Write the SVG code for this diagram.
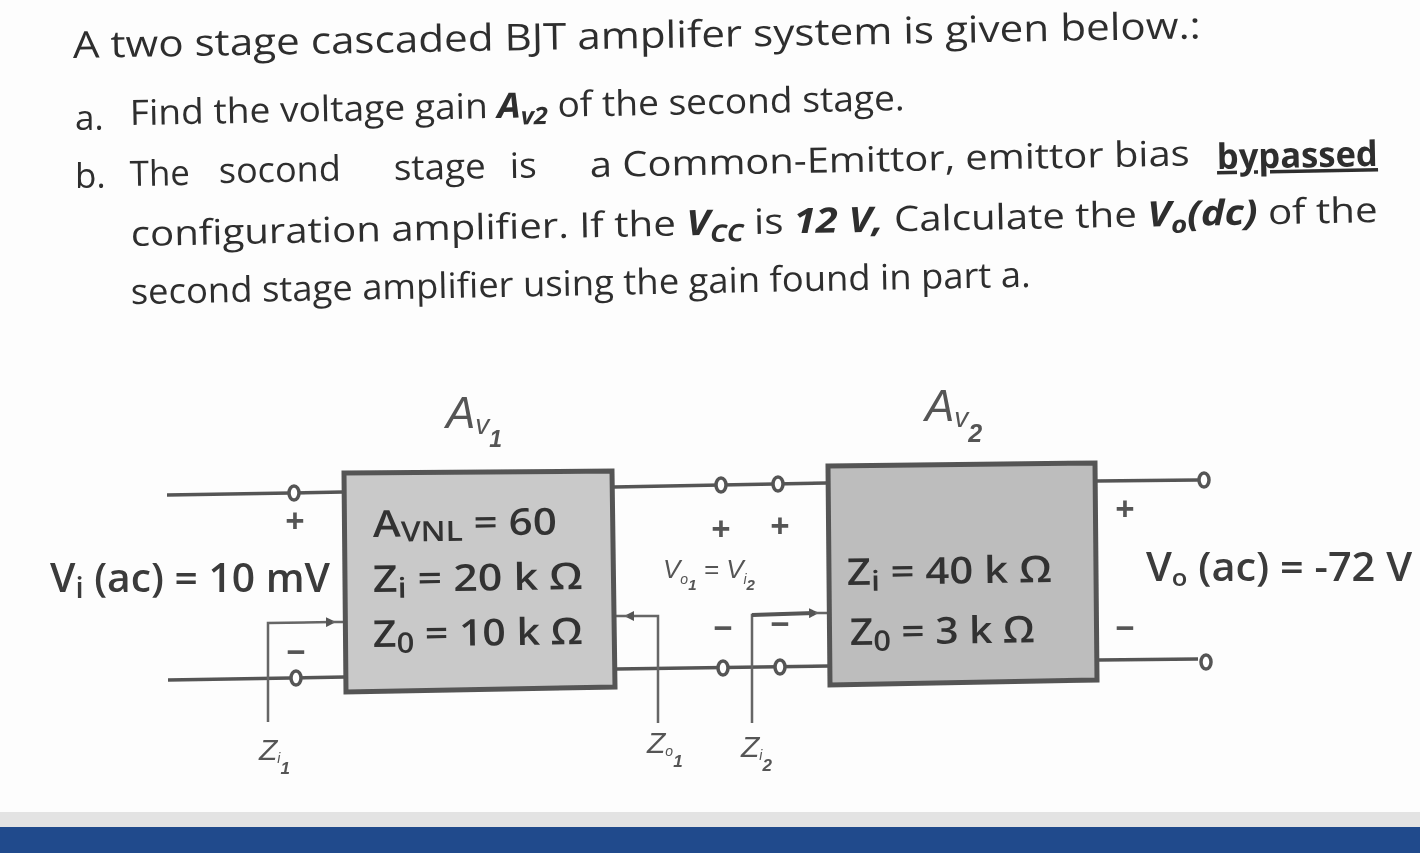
<svg xmlns="http://www.w3.org/2000/svg" width="1420" height="853" viewBox="0 0 1420 853">
<defs>
<filter id="scan" x="0" y="0" width="100%" height="100%"><feGaussianBlur stdDeviation="0.7"/></filter>
<marker id="ah" markerWidth="12" markerHeight="10" refX="6" refY="5" orient="auto" markerUnits="userSpaceOnUse"><path d="M0 0L10 5L0 10Z" fill="#555"/></marker>
</defs>
<style>
text{font-family:"Open Sans","Noto Sans","Liberation Sans",sans-serif;fill:#2e2e2e}
.q{font-size:37px}
.q2{font-size:35px}
.lb{font-size:37px;font-weight:600;fill:#333}
.v{font-size:39px;font-weight:600;fill:#3a3a3a}
.pm{font-size:34px;font-weight:700;fill:#555;text-anchor:middle}
.it{font-family:"Liberation Sans",sans-serif;font-style:italic;fill:#555}
.w{fill:none;stroke:#555;stroke-width:3.5}
.t{fill:none;stroke:#666;stroke-width:2.5}
.c{fill:#fff;stroke:#555;stroke-width:3.5}
</style>
<rect width="1420" height="853" fill="#fdfdfd"/>
<rect y="812" width="1420" height="15" fill="#e3e3e3"/>
<rect y="827" width="1420" height="26" fill="#204a8c"/>
<g filter="url(#scan)">
<g id="question">
<text class="q" x="73" y="58" textLength="1128" lengthAdjust="spacingAndGlyphs" transform="rotate(-1 73 58)">A two stage cascaded BJT amplifer system is given below.:</text>
<text class="q2" x="75" y="130">a.</text>
<text class="q2" x="130" y="125" textLength="775" lengthAdjust="spacingAndGlyphs" transform="rotate(-1.1 130 125)">Find the voltage gain <tspan font-weight="700" font-style="italic">A<tspan font-size="24" dy="7">v2</tspan></tspan><tspan dy="-7"> of the second stage.</tspan></text>
<text class="q2" x="75" y="188">b.</text>
<text class="q2" x="130" y="186" textLength="60" lengthAdjust="spacingAndGlyphs" transform="rotate(-1.1 130 186)">The</text>
<text class="q2" x="219" y="183" textLength="122" lengthAdjust="spacingAndGlyphs" transform="rotate(-1.1 219 183)">socond</text>
<text class="q2" x="394" y="180" textLength="92" lengthAdjust="spacingAndGlyphs" transform="rotate(-1.1 394 180)">stage</text>
<text class="q2" x="510" y="178" textLength="27" lengthAdjust="spacingAndGlyphs" transform="rotate(-1.1 510 178)">is</text>
<text class="q2" x="590" y="177" textLength="600" lengthAdjust="spacingAndGlyphs" transform="rotate(-1.1 590 177)">a Common-Emittor, emittor bias</text>
<text class="q2" x="1217" y="169" font-weight="700" text-decoration="underline" textLength="161" lengthAdjust="spacingAndGlyphs" transform="rotate(-1.1 1217 169)">bypassed</text>
<text class="q2" x="131" y="246" textLength="1247" lengthAdjust="spacingAndGlyphs" transform="rotate(-1.1 131 246)">configuration amplifier. If the <tspan font-weight="700" font-style="italic">V<tspan font-size="24" dy="7">CC</tspan></tspan><tspan dy="-7"> is </tspan><tspan font-weight="700" font-style="italic">12 V,</tspan> Calculate the <tspan font-weight="700" font-style="italic">V<tspan font-size="24" dy="7">o</tspan><tspan dy="-7">(dc)</tspan></tspan> of the</text>
<text class="q2" x="131" y="304" textLength="900" lengthAdjust="spacingAndGlyphs" transform="rotate(-1.1 131 304)">second stage amplifier using the gain found in part a.</text>
</g>
<g id="connectors">
<path class="w" d="M167 495L343 492M168 680L345 677M614 487L827 483M616 669L829 666M1096 481L1198 480M1098 660L1198 659"/>
<path class="t" marker-end="url(#ah)" d="M268 722V623L332 622"/>
<path class="t" marker-end="url(#ah)" d="M658 723V616L628 616"/>
<path class="t" marker-end="url(#ah)" d="M752 723V615L815 613"/>
<path d="M752 615L815 613" fill="none" stroke="#555" stroke-width="4"/>
<path d="M332 622H344M628 616H616M815 613H827" fill="none" stroke="#666" stroke-width="2.5"/>
</g>
<g id="terminals">
<ellipse class="c" cx="294" cy="493" rx="5" ry="7"/>
<ellipse class="c" cx="296" cy="678" rx="5" ry="7"/>
<ellipse class="c" cx="721" cy="485" rx="5" ry="7"/>
<ellipse class="c" cx="778" cy="484" rx="5" ry="7"/>
<ellipse class="c" cx="723" cy="668" rx="5" ry="7"/>
<ellipse class="c" cx="780" cy="667" rx="5" ry="7"/>
<ellipse class="c" cx="1204" cy="480" rx="5" ry="7"/>
<ellipse class="c" cx="1206" cy="662" rx="5" ry="7"/>
</g>
<g id="stage1">
<path d="M344 473L612 471L615 687L346 692Z" fill="#c9c9c9" stroke="#555" stroke-width="5"/>
<text class="lb" x="373" y="537" textLength="184" lengthAdjust="spacingAndGlyphs" transform="rotate(-.8 373 537)">A<tspan font-size="28" dy="5">VNL</tspan><tspan dy="-5"> = 60</tspan></text>
<text class="lb" x="373" y="592" textLength="210" lengthAdjust="spacingAndGlyphs" transform="rotate(-.8 373 592)">Z<tspan font-size="28" dy="6">i</tspan><tspan dy="-6"> = 20 k Ω</tspan></text>
<text class="lb" x="373" y="647" textLength="210" lengthAdjust="spacingAndGlyphs" transform="rotate(-.8 373 647)">Z<tspan font-size="28" dy="6">0</tspan><tspan dy="-6"> = 10 k Ω</tspan></text>
</g>
<g id="stage2">
<path d="M828 466L1095 463L1097 680L830 685Z" fill="#bdbdbd" stroke="#555" stroke-width="5"/>
<text class="lb" x="847" y="585" textLength="205" lengthAdjust="spacingAndGlyphs" transform="rotate(-.8 847 585)">Z<tspan font-size="28" dy="6">i</tspan><tspan dy="-6"> = 40 k Ω</tspan></text>
<text class="lb" x="850" y="645" textLength="185" lengthAdjust="spacingAndGlyphs" transform="rotate(-.8 850 645)">Z<tspan font-size="28" dy="6">0</tspan><tspan dy="-6"> = 3 k Ω</tspan></text>
</g>
<g id="labels">
<text class="it" x="446" y="428" font-size="44">A<tspan font-size="28" dy="6">v</tspan><tspan font-size="23" dy="13" font-weight="700">1</tspan></text>
<text class="it" x="925" y="421" font-size="44">A<tspan font-size="28" dy="6">v</tspan><tspan font-size="25" dy="15" font-weight="700">2</tspan></text>
<text class="v" x="50" y="592" textLength="280" lengthAdjust="spacingAndGlyphs">V<tspan font-size="28" dy="6">i</tspan><tspan dy="-6"> (ac) = 10 mV</tspan></text>
<text class="v" x="1146" y="581" font-weight="700" textLength="266" lengthAdjust="spacingAndGlyphs">V<tspan font-size="24" dy="5">o</tspan><tspan dy="-5"> (ac) = -72 V</tspan></text>
<text class="it" x="663" y="578" font-size="26">V<tspan font-size="14" dy="6">o</tspan><tspan font-size="15" dy="6" font-weight="700">1</tspan><tspan dy="-12"> = </tspan>V<tspan font-size="14" dy="6">i</tspan><tspan font-size="15" dy="6" font-weight="700">2</tspan></text>
<text class="it" x="259" y="760" font-size="30">Z<tspan font-size="14" dy="3">i</tspan><tspan font-size="17" dy="11" font-weight="700">1</tspan></text>
<text class="it" x="647" y="753" font-size="30">Z<tspan font-size="14" dy="3">o</tspan><tspan font-size="17" dy="11" font-weight="700">1</tspan></text>
<text class="it" x="741" y="757" font-size="30">Z<tspan font-size="14" dy="3">i</tspan><tspan font-size="17" dy="11" font-weight="700">2</tspan></text>
<text class="pm" x="295" y="533">+</text>
<text class="pm" x="296" y="664">−</text>
<text class="pm" x="721" y="541">+</text>
<text class="pm" x="780" y="538">+</text>
<text class="pm" x="723" y="640">−</text>
<text class="pm" x="780" y="636">−</text>
<text class="pm" x="1125" y="521">+</text>
<text class="pm" x="1125" y="640">−</text>
</g>
</g>
</svg>
